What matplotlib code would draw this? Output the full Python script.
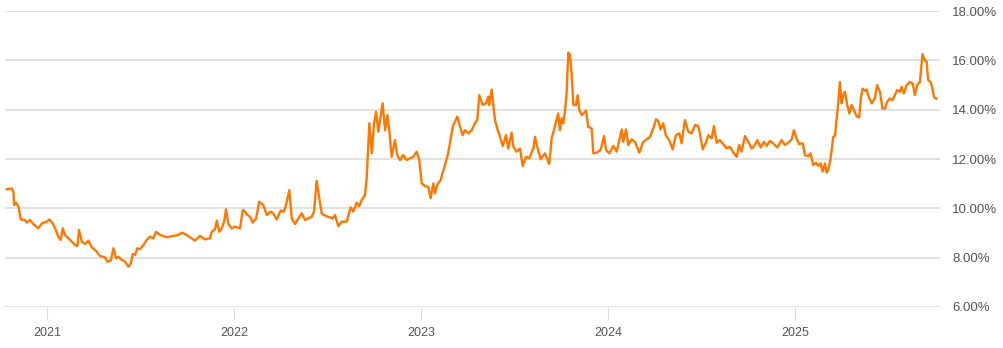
import matplotlib.pyplot as plt

# date as decimal year, value in percent
years = [
    2020.784, 2020.811, 2020.820, 2020.824, 2020.834, 2020.847, 2020.859, 2020.882, 2020.891, 2020.909,
    2020.927, 2020.953, 2020.972, 2020.998, 2021.012, 2021.030, 2021.043, 2021.060, 2021.073, 2021.084,
    2021.096, 2021.123, 2021.150, 2021.162, 2021.171, 2021.186, 2021.203, 2021.221, 2021.239, 2021.266,
    2021.283, 2021.310, 2021.322, 2021.341, 2021.355, 2021.369, 2021.381, 2021.399, 2021.417, 2021.435,
    2021.448, 2021.458, 2021.471, 2021.483, 2021.497, 2021.515, 2021.533, 2021.551, 2021.569, 2021.583,
    2021.604, 2021.640, 2021.675, 2021.702, 2021.720, 2021.738, 2021.765, 2021.791, 2021.818, 2021.845,
    2021.872, 2021.881, 2021.898, 2021.908, 2021.921, 2021.934, 2021.947, 2021.957, 2021.970, 2021.988,
    2022.005, 2022.032, 2022.047, 2022.059, 2022.071, 2022.086, 2022.100, 2022.118, 2022.135, 2022.157,
    2022.175, 2022.196, 2022.210, 2022.228, 2022.250, 2022.267, 2022.278, 2022.296, 2022.309, 2022.326,
    2022.344, 2022.362, 2022.380, 2022.397, 2022.416, 2022.428, 2022.442, 2022.456, 2022.469, 2022.478,
    2022.504, 2022.528, 2022.540, 2022.558, 2022.576, 2022.603, 2022.624, 2022.638, 2022.656, 2022.670,
    2022.683, 2022.701, 2022.710, 2022.724, 2022.737, 2022.749, 2022.760, 2022.772, 2022.781, 2022.795,
    2022.808, 2022.820, 2022.831, 2022.843, 2022.861, 2022.873, 2022.888, 2022.905, 2022.924, 2022.941,
    2022.959, 2022.977, 2022.991, 2023.004, 2023.027, 2023.039, 2023.052, 2023.066, 2023.075, 2023.087,
    2023.105, 2023.123, 2023.141, 2023.155, 2023.170, 2023.182, 2023.194, 2023.209, 2023.223, 2023.235,
    2023.253, 2023.271, 2023.289, 2023.301, 2023.312, 2023.330, 2023.348, 2023.360, 2023.365, 2023.378,
    2023.387, 2023.396, 2023.408, 2023.423, 2023.437, 2023.455, 2023.467, 2023.485, 2023.494, 2023.512,
    2023.530, 2023.544, 2023.562, 2023.579, 2023.601, 2023.610, 2023.622, 2023.640, 2023.663, 2023.686,
    2023.699, 2023.711, 2023.722, 2023.734, 2023.743, 2023.753, 2023.761, 2023.770, 2023.779, 2023.788,
    2023.797, 2023.806, 2023.815, 2023.829, 2023.838, 2023.847, 2023.860, 2023.883, 2023.895, 2023.913,
    2023.922, 2023.940, 2023.961, 2023.979, 2023.990, 2024.007, 2024.029, 2024.047, 2024.061, 2024.074,
    2024.082, 2024.097, 2024.109, 2024.127, 2024.145, 2024.154, 2024.168, 2024.189, 2024.207, 2024.225,
    2024.243, 2024.257, 2024.269, 2024.282, 2024.296, 2024.310, 2024.332, 2024.346, 2024.364, 2024.382,
    2024.394, 2024.412, 2024.430, 2024.448, 2024.466, 2024.483, 2024.492, 2024.507, 2024.524, 2024.537,
    2024.555, 2024.567, 2024.582, 2024.599, 2024.617, 2024.635, 2024.653, 2024.674, 2024.689, 2024.702,
    2024.715, 2024.733, 2024.751, 2024.769, 2024.786, 2024.799, 2024.817, 2024.835, 2024.849, 2024.867,
    2024.884, 2024.906, 2024.929, 2024.947, 2024.965, 2024.983, 2024.995, 2025.009, 2025.023, 2025.042,
    2025.054, 2025.072, 2025.084, 2025.098, 2025.113, 2025.125, 2025.138, 2025.148, 2025.161, 2025.170,
    2025.178, 2025.188, 2025.197, 2025.205, 2025.214, 2025.223, 2025.232, 2025.241, 2025.250, 2025.259,
    2025.268, 2025.277, 2025.291, 2025.304, 2025.316, 2025.330, 2025.344, 2025.353, 2025.362, 2025.375,
    2025.384, 2025.392, 2025.411, 2025.428, 2025.440, 2025.455, 2025.469, 2025.482, 2025.494, 2025.508,
    2025.523, 2025.535, 2025.547, 2025.562, 2025.571, 2025.583, 2025.598, 2025.615, 2025.630, 2025.642,
    2025.654, 2025.669, 2025.683, 2025.696, 2025.705, 2025.713, 2025.726, 2025.737, 2025.745, 2025.758,
]
rate = [
    10.77, 10.81, 10.67, 10.13, 10.23, 10.07, 9.55, 9.53, 9.42, 9.53,
    9.36, 9.19, 9.39, 9.46, 9.55, 9.39, 9.19, 8.85, 8.72, 9.19,
    8.92, 8.72, 8.51, 8.47, 9.12, 8.65, 8.55, 8.69, 8.42, 8.24,
    8.07, 8.01, 7.84, 7.88, 8.38, 7.97, 8.04, 7.91, 7.84, 7.63,
    7.77, 8.15, 8.11, 8.38, 8.34, 8.51, 8.72, 8.85, 8.79, 9.05,
    8.92, 8.83, 8.88, 8.92, 9.01, 8.96, 8.83, 8.69, 8.88, 8.74,
    8.79, 9.05, 9.15, 9.50, 9.05, 9.19, 9.46, 9.96, 9.36, 9.19,
    9.26, 9.19, 9.93, 9.87, 9.73, 9.66, 9.42, 9.59, 10.27, 10.13,
    9.73, 9.87, 9.80, 9.55, 9.91, 9.87, 10.13, 10.74, 9.59, 9.36,
    9.59, 9.80, 9.53, 9.59, 9.66, 9.87, 11.12, 10.41, 9.80, 9.73,
    9.66, 9.59, 9.73, 9.28, 9.46, 9.46, 10.04, 9.87, 10.23, 10.09,
    10.34, 10.54, 11.28, 13.45, 12.23, 13.45, 13.92, 13.11, 13.58, 14.26,
    13.17, 13.78, 13.11, 12.09, 12.77, 12.16, 11.96, 12.16, 11.96, 12.03,
    12.09, 12.30, 11.96, 11.01, 10.88, 10.88, 10.41, 11.01, 10.61, 10.95,
    11.15, 11.62, 12.09, 12.64, 13.31, 13.51, 13.72, 13.31, 12.97, 13.17,
    13.04, 13.17, 13.45, 13.58, 14.59, 14.19, 14.26, 14.53, 14.19, 14.82,
    14.19, 13.58, 13.24, 12.90, 12.53, 12.97, 12.43, 13.07, 12.50, 12.30,
    12.43, 11.72, 12.09, 12.03, 12.43, 12.90, 12.50, 11.99, 12.23, 11.80,
    12.84, 13.17, 13.51, 13.85, 13.17, 13.65, 13.45, 13.92, 14.66, 16.32,
    16.22, 15.47, 14.19, 14.19, 14.59, 13.99, 13.78, 13.96, 13.31, 13.24,
    12.23, 12.26, 12.37, 12.93, 12.37, 12.23, 12.53, 12.30, 12.77, 13.20,
    12.70, 13.20, 12.57, 12.80, 12.70, 12.53, 12.26, 12.70, 12.80, 12.90,
    13.24, 13.61, 13.55, 13.20, 13.45, 12.97, 12.70, 12.39, 12.97, 13.04,
    12.64, 13.58, 13.11, 13.04, 13.38, 13.34, 13.04, 12.39, 12.66, 12.97,
    12.84, 13.34, 12.66, 12.77, 12.61, 12.43, 12.50, 12.23, 12.09, 12.57,
    12.30, 12.93, 12.70, 12.43, 12.57, 12.77, 12.47, 12.70, 12.53, 12.74,
    12.64, 12.47, 12.77, 12.57, 12.66, 12.80, 13.17, 12.84, 12.61, 12.64,
    12.16, 12.12, 12.23, 11.76, 11.85, 11.72, 11.82, 11.49, 11.82, 11.45,
    11.55, 11.89, 12.36, 12.90, 12.93, 13.58, 14.26, 15.13, 14.26, 14.59,
    14.73, 14.32, 13.85, 14.19, 13.99, 13.74, 13.69, 14.46, 14.86, 14.77,
    14.82, 14.59, 14.26, 14.46, 15.00, 14.73, 14.05, 14.05, 14.32, 14.46,
    14.39, 14.59, 14.80, 14.73, 14.93, 14.66, 15.00, 15.13, 15.07, 14.59,
    15.00, 15.13, 16.26, 15.99, 15.95, 15.20, 15.13, 14.82, 14.50, 14.45,
]

year_ticks = [2021, 2022, 2023, 2024, 2025]
pct_ticks = [6, 8, 10, 12, 14, 16, 18]

plt.rcParams['font.family'] = ['Liberation Sans', 'DejaVu Sans']

fig = plt.figure(figsize=(10.04, 3.48), dpi=100)
ax = fig.add_axes([0.005, 0.118, 0.931, 0.850])

for v in pct_ticks:
    ax.axhline(v, color='#d9d9d9', lw=1.1, zorder=1)

ax.plot(years, rate, color='#ff7700', lw=1.7, solid_joinstyle='round', zorder=3)

ax.set_xlim(2020.775, 2025.775)
ax.set_ylim(6, 18)
for s in ax.spines.values():
    s.set_visible(False)

ax.set_xticks(year_ticks)
ax.set_xticklabels([str(y) for y in year_ticks])
ax.tick_params(axis='x', length=9.5, width=0.8, color='#dddddd', pad=5,
               labelsize=9, labelcolor='#555555')

ax.yaxis.tick_right()
ax.set_yticks(pct_ticks)
ax.set_yticklabels([f'{v:.2f}%' for v in pct_ticks])
ax.tick_params(axis='y', length=0, pad=9, labelsize=9.5, labelcolor='#555555')

fig.savefig('out.png', dpi=100)
